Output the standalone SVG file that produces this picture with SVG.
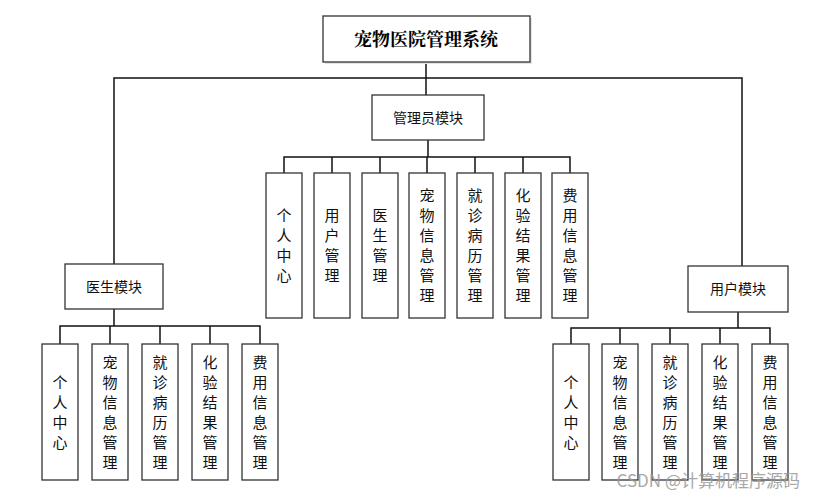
<svg xmlns="http://www.w3.org/2000/svg" width="814" height="498" viewBox="0 0 814 498">
<style>
.b{fill:#fff;stroke:#333;stroke-width:1.3}
.s{fill:#dde6f0}
.t{font-family:"Noto Sans CJK SC",sans-serif;font-size:14px;fill:#111;text-anchor:middle}
.v{font-family:"Noto Sans CJK SC",sans-serif;font-size:15px;fill:#111;text-anchor:middle}
.c{fill:none;stroke:#111;stroke-width:1.5}
</style>
<rect width="814" height="498" fill="#fff"/>
<g id="connectors">
<path class="c" d="M426 62V95M114 264V78H742V266M284 173V157H570V173M332 157V173M380 157V173M427 157V173M475 157V173M523 157V173M428 140V157"/>
<path class="c" d="M114 309V326M60 344V326H260V344M110 326V344M160 326V344M210 326V344"/>
<path class="c" d="M738 312V328M571 344V328H770V344M620 328V344M670 328V344M720 328V344"/>
</g>
<g id="root"><rect x="325" y="18" width="207" height="46" class="s"/><rect x="323" y="16" width="207" height="46" class="b"/><text x="426" y="46" font-family="'Noto Serif CJK SC','Noto Sans CJK SC',serif" font-size="18" font-weight="bold" text-anchor="middle">宠物医院管理系统</text></g>
<g id="admin"><rect x="372" y="95" width="112" height="45" class="b"/><text class="t" x="428" y="123">管理员模块</text></g>
<g id="doctor"><rect x="65" y="264" width="98" height="45" class="b"/><text class="t" x="114" y="292">医生模块</text></g>
<g id="user"><rect x="688" y="266" width="100" height="46" class="b"/><text class="t" x="738" y="294">用户模块</text></g>
<g id="a1"><rect x="266" y="173" width="36" height="145" class="b"/><text class="v"><tspan x="284" y="221">个</tspan><tspan x="284" y="241">人</tspan><tspan x="284" y="261">中</tspan><tspan x="284" y="281">心</tspan></text></g>
<g id="a2"><rect x="314" y="173" width="36" height="145" class="b"/><text class="v"><tspan x="332" y="221">用</tspan><tspan x="332" y="241">户</tspan><tspan x="332" y="261">管</tspan><tspan x="332" y="281">理</tspan></text></g>
<g id="a3"><rect x="362" y="173" width="36" height="145" class="b"/><text class="v"><tspan x="380" y="221">医</tspan><tspan x="380" y="241">生</tspan><tspan x="380" y="261">管</tspan><tspan x="380" y="281">理</tspan></text></g>
<g id="a4"><rect x="409" y="173" width="36" height="145" class="b"/><text class="v"><tspan x="427" y="201">宠</tspan><tspan x="427" y="221">物</tspan><tspan x="427" y="241">信</tspan><tspan x="427" y="261">息</tspan><tspan x="427" y="281">管</tspan><tspan x="427" y="301">理</tspan></text></g>
<g id="a5"><rect x="457" y="173" width="36" height="145" class="b"/><text class="v"><tspan x="475" y="201">就</tspan><tspan x="475" y="221">诊</tspan><tspan x="475" y="241">病</tspan><tspan x="475" y="261">历</tspan><tspan x="475" y="281">管</tspan><tspan x="475" y="301">理</tspan></text></g>
<g id="a6"><rect x="505" y="173" width="36" height="145" class="b"/><text class="v"><tspan x="523" y="201">化</tspan><tspan x="523" y="221">验</tspan><tspan x="523" y="241">结</tspan><tspan x="523" y="261">果</tspan><tspan x="523" y="281">管</tspan><tspan x="523" y="301">理</tspan></text></g>
<g id="a7"><rect x="552" y="173" width="36" height="145" class="b"/><text class="v"><tspan x="570" y="201">费</tspan><tspan x="570" y="221">用</tspan><tspan x="570" y="241">信</tspan><tspan x="570" y="261">息</tspan><tspan x="570" y="281">管</tspan><tspan x="570" y="301">理</tspan></text></g>
<g id="d1"><rect x="42" y="344" width="36" height="136" class="b"/><text class="v"><tspan x="60" y="388">个</tspan><tspan x="60" y="408">人</tspan><tspan x="60" y="428">中</tspan><tspan x="60" y="448">心</tspan></text></g>
<g id="d2"><rect x="92" y="344" width="36" height="136" class="b"/><text class="v"><tspan x="110" y="368">宠</tspan><tspan x="110" y="388">物</tspan><tspan x="110" y="408">信</tspan><tspan x="110" y="428">息</tspan><tspan x="110" y="448">管</tspan><tspan x="110" y="468">理</tspan></text></g>
<g id="d3"><rect x="142" y="344" width="36" height="136" class="b"/><text class="v"><tspan x="160" y="368">就</tspan><tspan x="160" y="388">诊</tspan><tspan x="160" y="408">病</tspan><tspan x="160" y="428">历</tspan><tspan x="160" y="448">管</tspan><tspan x="160" y="468">理</tspan></text></g>
<g id="d4"><rect x="192" y="344" width="36" height="136" class="b"/><text class="v"><tspan x="210" y="368">化</tspan><tspan x="210" y="388">验</tspan><tspan x="210" y="408">结</tspan><tspan x="210" y="428">果</tspan><tspan x="210" y="448">管</tspan><tspan x="210" y="468">理</tspan></text></g>
<g id="d5"><rect x="242" y="344" width="36" height="136" class="b"/><text class="v"><tspan x="260" y="368">费</tspan><tspan x="260" y="388">用</tspan><tspan x="260" y="408">信</tspan><tspan x="260" y="428">息</tspan><tspan x="260" y="448">管</tspan><tspan x="260" y="468">理</tspan></text></g>
<g id="u1"><rect x="553" y="344" width="36" height="136" class="b"/><text class="v"><tspan x="571" y="388">个</tspan><tspan x="571" y="408">人</tspan><tspan x="571" y="428">中</tspan><tspan x="571" y="448">心</tspan></text></g>
<g id="u2"><rect x="602" y="344" width="36" height="136" class="b"/><text class="v"><tspan x="620" y="368">宠</tspan><tspan x="620" y="388">物</tspan><tspan x="620" y="408">信</tspan><tspan x="620" y="428">息</tspan><tspan x="620" y="448">管</tspan><tspan x="620" y="468">理</tspan></text></g>
<g id="u3"><rect x="652" y="344" width="36" height="136" class="b"/><text class="v"><tspan x="670" y="368">就</tspan><tspan x="670" y="388">诊</tspan><tspan x="670" y="408">病</tspan><tspan x="670" y="428">历</tspan><tspan x="670" y="448">管</tspan><tspan x="670" y="468">理</tspan></text></g>
<g id="u4"><rect x="702" y="344" width="36" height="136" class="b"/><text class="v"><tspan x="720" y="368">化</tspan><tspan x="720" y="388">验</tspan><tspan x="720" y="408">结</tspan><tspan x="720" y="428">果</tspan><tspan x="720" y="448">管</tspan><tspan x="720" y="468">理</tspan></text></g>
<g id="u5"><rect x="752" y="344" width="36" height="136" class="b"/><text class="v"><tspan x="770" y="368">费</tspan><tspan x="770" y="388">用</tspan><tspan x="770" y="408">信</tspan><tspan x="770" y="428">息</tspan><tspan x="770" y="448">管</tspan><tspan x="770" y="468">理</tspan></text></g>
<text x="800" y="487" text-anchor="end" font-family="'Noto Sans CJK SC',sans-serif" font-size="17" fill="#999" opacity="0.85">CSDN @计算机程序源码</text>
</svg>
